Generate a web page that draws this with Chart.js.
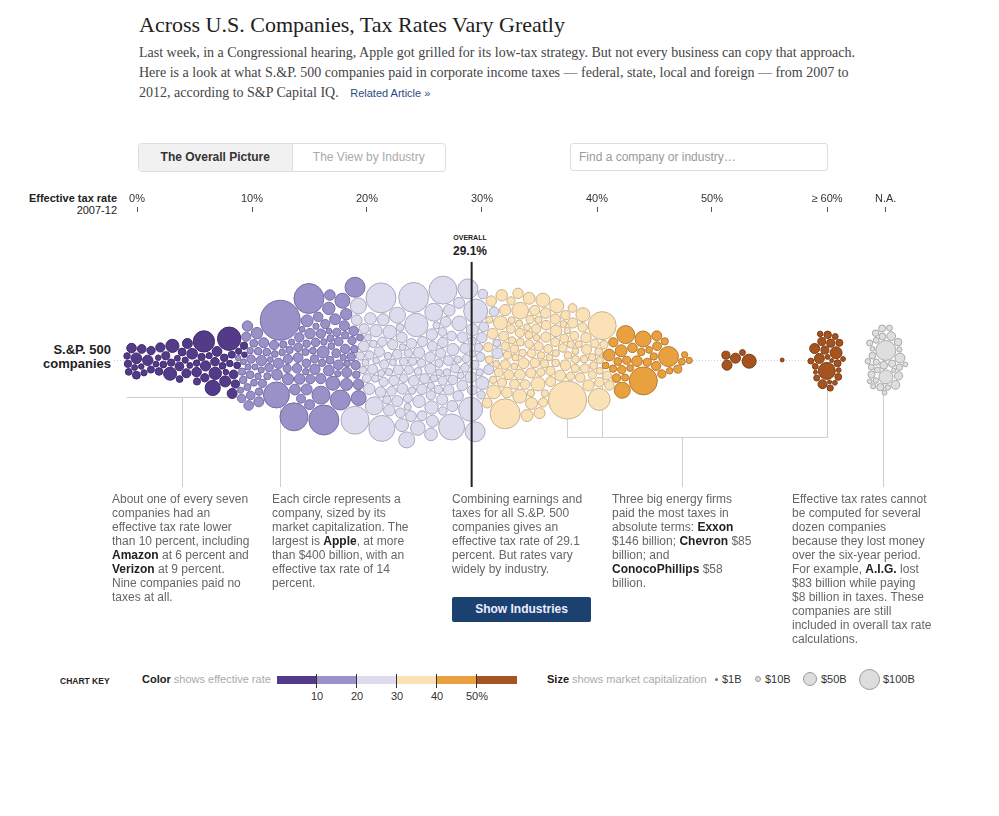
<!DOCTYPE html>
<html>
<head>
<meta charset="utf-8">
<script src="https://cdn.jsdelivr.net/npm/chart.js@4"></script>
<style>
  body { margin: 0; background: #fff; width: 999px; height: 816px; overflow: hidden; position: relative;
         font-family: "Liberation Sans", Arial, sans-serif; color: #333; }
  .abs { position: absolute; }
  h1 { position: absolute; left: 139px; top: 11px; margin: 0; font: normal 22px/28px "Liberation Serif", serif; color: #222; }
  .intro { left: 139px; top: 43px; width: 820px; font: 14px/20px "Liberation Serif", serif; color: #444; }
  .intro a { font: 11px "Liberation Sans", sans-serif; color: #2c4a82; text-decoration: none; margin-left: 8px; }
  .toggle { left: 138px; top: 143px; width: 306px; height: 27px; border: 1px solid #ddd; border-radius: 4px;
            display: flex; overflow: hidden; font-size: 12px; }
  .toggle div { flex: 1; text-align: center; line-height: 27px; }
  .toggle .on { background: #f1f1f1; font-weight: bold; color: #333; border-right: 1px solid #ddd; }
  .toggle .off { color: #aaa; }
  .search { left: 570px; top: 143px; width: 258px; height: 28px; border: 1px solid #ddd; border-radius: 3px;
            box-sizing: border-box; padding-left: 8px; line-height: 26px; font-size: 12px; color: #999; }
  .axhead { left: 0; top: 192px; width: 117px; text-align: right; font-size: 11px; line-height: 12px; color: #222; }
  .rowlabel { left: 0; top: 343px; width: 111px; text-align: right; font: bold 13px/14px "Liberation Sans", sans-serif; color: #222; }
  .overall { left: 430px; width: 80px; text-align: center; font-weight: bold; color: #222; }
  .note { top: 492px; width: 175px; font-size: 12px; line-height: 14px; color: #666; white-space: nowrap; }
  .note b { color: #222; }
  .btn { left: 452px; top: 597px; width: 139px; height: 25px; background: #1b4171; border-radius: 2px;
         color: #eef; font-weight: bold; font-size: 12px; line-height: 25px; text-align: center; }
  .key { top: 673px; font-size: 11px; line-height: 12px; }
  .key .g { color: #aaa; }
  .bar { top: 676px; height: 8px; width: 40px; }
  .tick { top: 674px; width: 1px; height: 14px; background: #333; }
  .tlab { top: 690px; font-size: 11px; width: 30px; text-align: center; color: #333; }
  .dot { border-radius: 50%; background: #ddd; border: 1px solid #999; box-sizing: border-box; }
</style>
</head>
<body>
<h1>Across U.S. Companies, Tax Rates Vary Greatly</h1>
<div class="abs intro">Last week, in a Congressional hearing, Apple got grilled for its low-tax strategy. But not every business can copy that approach.<br>Here is a look at what S.&amp;P. 500 companies paid in corporate income taxes — federal, state, local and foreign — from 2007 to<br>2012, according to S&amp;P Capital IQ. <a href="#">Related Article »</a></div>

<div class="abs toggle"><div class="on">The Overall Picture</div><div class="off">The View by Industry</div></div>
<div class="abs search">Find a company or industry…</div>

<div class="abs axhead"><b>Effective tax rate</b><br>2007-12</div>
<div class="abs rowlabel">S.&amp;P. 500<br>companies</div>
<div class="abs overall" style="top:234px;font-size:7px;">OVERALL</div>
<div class="abs overall" style="top:244px;font-size:12px;">29.1%</div>

<div class="abs" style="left:-21px;top:191px;width:1041px;height:338px;">
  <canvas id="swarm" width="1041" height="338"></canvas>
</div>

<div class="abs note" style="left:112px;">About one of every seven<br>companies had an<br>effective tax rate lower<br>than 10 percent, including<br><b>Amazon</b> at 6 percent and<br><b>Verizon</b> at 9 percent.<br>Nine companies paid no<br>taxes at all.</div>
<div class="abs note" style="left:272px;">Each circle represents a<br>company, sized by its<br>market capitalization. The<br>largest is <b>Apple</b>, at more<br>than $400 billion, with an<br>effective tax rate of 14<br>percent.</div>
<div class="abs note" style="left:452px;">Combining earnings and<br>taxes for all S.&amp;P. 500<br>companies gives an<br>effective tax rate of 29.1<br>percent. But rates vary<br>widely by industry.</div>
<div class="abs note" style="left:612px;">Three big energy firms<br>paid the most taxes in<br>absolute terms: <b>Exxon</b><br>$146 billion; <b>Chevron</b> $85<br>billion; and<br><b>ConocoPhillips</b> $58<br>billion.</div>
<div class="abs note" style="left:792px;">Effective tax rates cannot<br>be computed for several<br>dozen companies<br>because they lost money<br>over the six-year period.<br>For example, <b>A.I.G.</b> lost<br>$83 billion while paying<br>$8 billion in taxes. These<br>companies are still<br>included in overall tax rate<br>calculations.</div>
<div class="abs btn">Show Industries</div>

<div class="abs key" style="left:60px;top:675px;font-size:8.5px;font-weight:bold;color:#222;">CHART KEY</div>
<div class="abs key" style="left:142px;"><b style="color:#222">Color</b> <span class="g">shows effective rate</span></div>
<div id="colorKey"></div>
<div class="abs key" style="left:547px;"><b style="color:#222">Size</b> <span class="g">shows market capitalization</span></div>
<div class="abs dot" style="left:715px;top:678px;width:3px;height:3px;background:#777;border:none;"></div>
<div class="abs key" style="left:722px;">$1B</div>
<div class="abs dot" style="left:755px;top:676px;width:6px;height:6px;"></div>
<div class="abs key" style="left:765px;">$10B</div>
<div class="abs dot" style="left:803px;top:672px;width:14px;height:14px;"></div>
<div class="abs key" style="left:821px;">$50B</div>
<div class="abs dot" style="left:859px;top:669px;width:21px;height:21px;"></div>
<div class="abs key" style="left:883px;">$100B</div>

<script>
// axis
const tickVals = [0, 10, 20, 30, 40, 50, 60, 65.1];
const tickLabels = ['0%', '10%', '20%', '30%', '40%', '50%', '≥ 60%', 'N.A.'];
const naColumn = 65.1;
const overallRate = 29.1;
const keyStops = [10, 20, 30, 40, 50];
const keyLabels = ['10', '20', '30', '40', '50%'];

const rateUnder10 = [0, 0, 0, 0, 0, 0, 0, 0, 0, 0.5, 0.9, 1.2, 1.4, 1.7, 1.9, 2.2, 2.4, 2.6, 2.9,
  3.1, 3.2, 3.4, 3.6, 3.8, 4.0, 4.2, 4.4, 4.6, 4.8, 5.0, 5.2, 5.4, 5.6, 5.8, 6.0, 6.1, 6.3, 6.5, 6.7, 6.9,
  7.0, 7.2, 7.4, 7.6, 7.8, 8.0, 8.2, 8.4, 8.6, 8.7, 8.9, 9.1, 9.3, 9.5, 9.6, 9.8, 9.9];
const capUnder10 = [14, 9, 30, 12, 20, 8, 16, 11, 24, 10, 28, 13, 18, 9, 15, 22, 8, 12, 17,
  44, 45, 14, 9, 20, 12, 26, 10, 16, 21, 9, 30, 13, 24, 11, 18, 118, 10, 27, 14, 40,
  60, 12, 19, 8, 25, 15, 11, 32, 13, 142, 20, 10, 26, 12, 17, 8, 14];

const rate10to20 = [10.0, 10.1, 10.2, 10.3, 10.4, 10.5, 10.7, 10.8, 10.9, 11.0,
  11.1, 11.2, 11.3, 11.4, 11.5, 11.6, 11.7, 11.8, 11.9, 12.0,
  12.1, 12.2, 12.3, 12.35, 12.4, 12.5, 12.6, 12.7, 12.8, 12.9, 13.0,
  13.05, 13.1, 13.2, 13.3, 13.4, 13.5, 13.6, 13.7, 13.8, 13.9, 14.0,
  14.05, 14.1, 14.2, 14.3, 14.4, 14.5, 14.6, 14.7, 14.8, 14.9, 15.0,
  15.05, 15.1, 15.2, 15.3, 15.4, 15.5, 15.6, 15.7, 15.8, 15.9, 16.0,
  16.05, 16.1, 16.15, 16.2, 16.3, 16.4, 16.5, 16.6, 16.7, 16.8, 16.9,
  17.0, 17.05, 17.1, 17.2, 17.3, 17.4, 17.45, 17.5, 17.6, 17.7, 17.8,
  17.9, 18.0, 18.05, 18.1, 18.2, 18.25, 18.3, 18.4, 18.5, 18.55, 18.6, 18.7,
  18.8, 18.9, 19.0, 19.1, 19.2, 19.25, 19.3, 19.4, 19.5, 19.6,
  19.7, 19.8, 19.9];
const cap10to20 = [10, 14, 8, 18, 15, 11, 22, 9, 16, 13,
  28, 10, 19, 16, 12, 24, 20, 9, 15, 26,
  11, 28, 15, 26, 34, 18, 10, 19, 16, 13, 22,
  30, 9, 27, 14, 415, 12, 33, 17, 176, 10, 24,
  22, 23, 20, 204, 14, 29, 11, 30, 25, 17, 9,
  28, 21, 234, 13, 19, 37, 11, 31, 23, 15, 10,
  24, 22, 26, 84, 234, 19, 12, 38, 28, 14, 9,
  22, 30, 16, 40, 18, 11, 27, 25, 13, 29, 51,
  10, 20, 26, 31, 23, 17, 37, 12, 58, 20, 104, 15,
  27, 11, 34, 58, 14, 24, 22, 10, 18, 104,
  12, 29, 15];

const rate20to30 = [20.0, 20.05, 20.1, 20.2, 20.25, 20.3, 20.4, 20.45, 20.5, 20.6, 20.7, 20.8, 20.85, 20.9,
  21.0, 21.05, 21.1, 21.2, 21.25, 21.3, 21.4, 21.5, 21.6, 21.65, 21.7, 21.8, 21.9,
  22.0, 22.05, 22.1, 22.2, 22.25, 22.3, 22.4, 22.45, 22.5, 22.6, 22.7, 22.8, 22.85, 22.9,
  23.0, 23.05, 23.1, 23.2, 23.25, 23.3, 23.4, 23.5, 23.6, 23.65, 23.7, 23.8, 23.9,
  24.0, 24.05, 24.1, 24.2, 24.25, 24.3, 24.4, 24.45, 24.5, 24.6, 24.7, 24.8, 24.85, 24.9,
  25.0, 25.05, 25.1, 25.2, 25.25, 25.3, 25.4, 25.5, 25.6, 25.65, 25.7, 25.8, 25.9,
  26.0, 26.05, 26.1, 26.2, 26.25, 26.3, 26.4, 26.45, 26.5, 26.6, 26.7, 26.8, 26.85, 26.9,
  27.0, 27.05, 27.1, 27.2, 27.25, 27.3, 27.4, 27.5, 27.6, 27.65, 27.7, 27.8, 27.9,
  28.0, 28.05, 28.1, 28.15, 28.2, 28.25, 28.3, 28.4, 28.45, 28.5, 28.6, 28.7, 28.8, 28.85, 28.9,
  29.0, 29.1, 29.2, 29.25, 29.3, 29.4, 29.5, 29.6, 29.65, 29.7, 29.8, 29.9];
const cap20to30 = [14, 30, 204, 20, 30, 67, 13, 26, 27, 17, 34, 12, 22, 84,
  19, 26, 29, 14, 36, 234, 23, 40, 15, 24, 176, 18, 32,
  13, 28, 25, 48, 34, 17, 22, 31, 14, 37, 19, 12, 26, 28,
  44, 28, 67, 16, 30, 24, 13, 67, 30, 21, 234, 18, 40,
  14, 27, 21, 33, 30, 13, 142, 25, 26, 17, 55, 84, 29, 19,
  29, 26, 12, 23, 34, 42, 16, 31, 14, 26, 47, 20, 25,
  13, 30, 35, 37, 32, 176, 18, 28, 204, 22, 14, 38, 24, 17,
  28, 28, 19, 58, 32, 13, 24, 32, 15, 27, 20, 104, 12,
  30, 22, 150, 104, 18, 24, 39, 14, 29, 25, 17, 150, 34, 21, 13,
  22, 19, 28, 24, 14, 44, 18, 12, 26, 24, 16, 31];

const rate30to40 = [30.0, 30.1, 30.15, 30.2, 30.3, 30.4, 30.5, 30.55, 30.6, 30.7, 30.8, 30.9,
  31.0, 31.1, 31.15, 31.2, 31.3, 31.4, 31.5, 31.55, 31.6, 31.7, 31.8, 31.9,
  32.0, 32.1, 32.15, 32.2, 32.3, 32.4, 32.5, 32.55, 32.6, 32.7, 32.8, 32.9,
  33.0, 33.1, 33.15, 33.2, 33.3, 33.4, 33.5, 33.55, 33.6, 33.7, 33.8, 33.9,
  34.0, 34.1, 34.15, 34.2, 34.3, 34.4, 34.5, 34.55, 34.6, 34.7, 34.8, 34.9,
  35.0, 35.1, 35.15, 35.2, 35.3, 35.4, 35.5, 35.55, 35.6, 35.7, 35.8, 35.9,
  36.0, 36.1, 36.15, 36.2, 36.3, 36.4, 36.5, 36.55, 36.6, 36.7, 36.9,
  37.0, 37.1, 37.15, 37.2, 37.3, 37.4, 37.5, 37.55, 37.6, 37.7, 37.8, 37.9,
  38.0, 38.1, 38.2, 38.3, 38.4, 38.5, 38.6, 38.7, 38.8, 38.9,
  39.0, 39.1, 39.2, 39.3, 39.4, 39.5, 39.6, 39.7, 39.8, 39.9];
const cap30to40 = [16, 30, 22, 13, 21, 51, 15, 28, 25, 26, 12, 19,
  34, 51, 24, 14, 22, 17, 30, 20, 13, 234, 19, 25,
  12, 33, 26, 51, 16, 22, 14, 30, 72, 18, 28, 13,
  24, 15, 31, 37, 37, 19, 12, 26, 27, 17, 37, 22,
  14, 32, 20, 16, 11, 25, 51, 23, 18, 13, 29, 20,
  51, 15, 27, 22, 12, 35, 17, 24, 26, 14, 21, 13,
  27, 51, 19, 16, 20, 11, 31, 22, 15, 23, 375,
  14, 29, 21, 18, 12, 24, 16, 27, 33, 13, 20, 15,
  26, 17, 23, 51, 12, 22, 16, 14, 28, 19,
  18, 24, 13, 17, 23, 12, 126, 16, 20, 204];

const rate40to50 = [40.2, 40.5, 40.6, 40.8, 41.0, 41.2, 41.4, 41.6, 41.7, 41.8, 42.0, 42.2, 42.4, 42.6, 42.9,
  43.1, 43.4, 43.5, 43.7, 43.9, 44.0, 44.2, 44.4, 44.6, 45.0, 45.3, 45.7, 46.2, 46.5, 46.8, 47.5, 48.0];
const cap40to50 = [12, 14, 37, 20, 16, 22, 13, 37, 67, 84, 18, 12, 24, 17, 30,
  15, 204, 12, 67, 20, 17, 14, 22, 26, 14, 18, 104, 11, 12, 17, 10, 10];

const rate50to60 = [51.3, 51.4, 51.9, 52.8, 53.2, 56.1];
const cap50to60 = [17, 26, 26, 9, 51, 4];

// rates of 60% or more are drawn in the 60% column
const rateOver60 = [60, 60, 60, 60, 60, 60, 60, 60, 60, 60, 60, 60, 60, 60, 60, 60, 60, 60, 60, 60,
  60, 60, 60, 60, 60];
const capOver60 = [26, 6, 4, 9, 6, 37, 9, 13, 26, 4, 75, 17, 17, 6, 13, 9, 17, 4, 21, 9,
  12, 8, 15, 10, 6];

// no rate available (lost money over the period)
const capNA = [6, 9, 12, 5, 14, 8, 10, 16, 6, 11, 26, 9, 104, 51, 13,
  7, 18, 10, 8, 15, 6, 12, 20, 9, 14, 20, 7, 11, 8, 13, 6, 9];

const groups = [
  { label: 'Under 10%', rates: rateUnder10, caps: capUnder10, fill: '#533b8a', line: '#3e2a6c' },
  { label: '10-20%', rates: rate10to20, caps: cap10to20, fill: '#9b91c9', line: '#766ca6' },
  { label: '20-30%', rates: rate20to30, caps: cap20to30, fill: '#dcdcee', line: '#a9a9bc' },
  { label: '30-40%', rates: rate30to40, caps: cap30to40, fill: '#fae1b6', line: '#c8b18e' },
  { label: '40-50%', rates: rate40to50, caps: cap40to50, fill: '#e9a03f', line: '#b8782c' },
  { label: '50-60%', rates: rate50to60, caps: cap50to60, fill: '#a5541f', line: '#7c3c13' },
  { label: '60% or more', rates: rateOver60, caps: capOver60, fill: '#a5541f', line: '#7c3c13' },
  { label: 'N.A.', rates: capNA.map(() => naColumn), caps: capNA, fill: '#dedede', line: '#a8a8a8' }
];
const keyColors = groups.slice(0, 6).map(g => g.fill);

function radiusFor(cap) {
  return 0.98 * Math.sqrt(cap);
}

// colour key bar
const keyBox = document.getElementById('colorKey');
keyColors.forEach((c, i) => {
  const d = document.createElement('div');
  d.className = 'abs bar';
  d.style.left = (277 + i * 40) + 'px';
  d.style.background = c;
  keyBox.appendChild(d);
});
keyStops.forEach((s, i) => {
  const t = document.createElement('div');
  t.className = 'abs tick';
  t.style.left = (277 + (i + 1) * 40 - 1) + 'px';
  keyBox.appendChild(t);
  const l = document.createElement('div');
  l.className = 'abs tlab';
  l.style.left = (277 + (i + 1) * 40 - 15) + 'px';
  l.textContent = keyLabels[i];
  keyBox.appendChild(l);
});

function findPoint(c, di, cap) {
  const idx = c.data.datasets[di].data.findIndex(p => p.cap === cap);
  return c.getDatasetMeta(di).data[idx];
}

const guides = {
  id: 'guides',
  beforeDatasetsDraw(c) {
    const xs = c.scales.x, ys = c.scales.y;
    const cy = ys.getPixelForValue(0);
    const ctx = c.ctx;
    ctx.save();
    // dotted baseline
    ctx.strokeStyle = '#d0d0d0';
    ctx.lineWidth = 1;
    ctx.setLineDash([1, 2]);
    ctx.beginPath();
    ctx.moveTo(xs.getPixelForValue(-2), cy + 0.5);
    ctx.lineTo(xs.getPixelForValue(60), cy + 0.5);
    ctx.stroke();
    ctx.setLineDash([]);

    ctx.strokeStyle = '#cfcfcf';
    ctx.beginPath();
    // low-rate bracket
    const bx = Math.round(xs.getPixelForValue(3.9)) + 0.5;
    ctx.moveTo(xs.getPixelForValue(-0.9), cy + 37.5);
    ctx.lineTo(xs.getPixelForValue(8.7), cy + 37.5);
    ctx.moveTo(bx, cy + 37.5);
    ctx.lineTo(bx, cy + 127);
    // Apple
    const apple = findPoint(c, 1, 415);
    ctx.moveTo(Math.round(apple.x) + 0.5, apple.y);
    ctx.lineTo(Math.round(apple.x) + 0.5, cy + 127);
    // energy firms
    const exxon = findPoint(c, 3, 375), chevron = findPoint(c, 3, 204), conoco = findPoint(c, 6, 75);
    const ey = cy + 77.5;
    [exxon, chevron, conoco].forEach(p => {
      ctx.moveTo(Math.round(p.x) + 0.5, p.y);
      ctx.lineTo(Math.round(p.x) + 0.5, ey);
    });
    ctx.moveTo(Math.round(exxon.x), ey);
    ctx.lineTo(Math.round(conoco.x) + 1, ey);
    const mx = Math.round(xs.getPixelForValue(47.4)) + 0.5;
    ctx.moveTo(mx, ey);
    ctx.lineTo(mx, cy + 127);
    // N.A.
    const nx = Math.round(xs.getPixelForValue(naColumn - 0.2)) + 0.5;
    ctx.moveTo(nx, cy);
    ctx.lineTo(nx, cy + 127);
    ctx.stroke();
    ctx.restore();
  },
  afterDatasetsDraw(c) {
    const xs = c.scales.x, ys = c.scales.y;
    const cy = ys.getPixelForValue(0);
    const ox = xs.getPixelForValue(overallRate);
    const ctx = c.ctx;
    ctx.save();
    ctx.strokeStyle = '#222';
    ctx.lineWidth = 2;
    ctx.beginPath();
    ctx.moveTo(ox, cy - 98);
    ctx.lineTo(ox, cy + 127);
    ctx.stroke();
    ctx.restore();
  }
};

const chart = new Chart(document.getElementById('swarm'), {
  type: 'bubble',
  data: {
    datasets: groups.map(g => ({
      label: g.label,
      data: g.rates.map((r, i) => ({ x: r, y: 0, r: radiusFor(g.caps[i]), cap: g.caps[i], rate: r })),
      backgroundColor: g.fill,
      borderColor: g.line,
      borderWidth: 1
    }))
  },
  options: {
    responsive: false,
    animation: false,
    events: [],
    layout: { padding: { left: 21, right: 21, top: 0, bottom: 21 } },
    plugins: { legend: { display: false }, tooltip: { enabled: false } },
    scales: {
      x: {
        type: 'linear',
        position: 'top',
        min: -137 / 11.5,
        max: (999 - 137) / 11.5,
        afterBuildTicks: s => { s.ticks = tickVals.map(v => ({ value: v })); },
        ticks: {
          autoSkip: false,
          maxRotation: 0,
          padding: 1,
          color: '#333',
          font: { size: 11, family: 'Liberation Sans' },
          callback: v => tickLabels[tickVals.indexOf(v)]
        },
        grid: { drawOnChartArea: false, tickLength: 5, tickColor: '#555', tickWidth: 1 },
        border: { display: false }
      },
      y: { display: false, min: -150, max: 150 }
    }
  },
  plugins: [guides]
});

// push overlapping circles apart, bigger circles move less
function collide(nodes, gap, maxR) {
  nodes.sort((a, b) => a.x - b.x);
  for (let i = 0; i < nodes.length; i++) {
    const a = nodes[i];
    for (let j = i + 1; j < nodes.length; j++) {
      const b = nodes[j];
      const dx = b.x - a.x;
      if (dx > a.r + maxR + gap) break;
      const dy = b.y - a.y;
      const min = a.r + b.r + gap;
      const d2 = dx * dx + dy * dy;
      if (d2 < min * min) {
        const d = Math.sqrt(d2) || 0.01;
        const push = (min - d) / d;
        const wa = (b.r * b.r) / (a.r * a.r + b.r * b.r), wb = 1 - wa;
        a.x -= dx * push * wa; a.y -= dy * push * wa;
        b.x += dx * push * wb; b.y += dy * push * wb;
      }
    }
  }
}

// pack the circles around the centre line: beeswarm start, then relax towards each rate
function layoutSwarm() {
  const xs = chart.scales.x, ys = chart.scales.y;
  const cy = ys.getPixelForValue(0);
  const gap = 1;
  const nodes = [];
  chart.data.datasets.forEach(ds => ds.data.forEach(p => nodes.push({ p: p, tx: xs.getPixelForValue(p.rate), r: p.r, y: 0 })));
  nodes.sort((a, b) => a.tx - b.tx);
  nodes.forEach((n, k) => { n.x = n.tx + ((k % 3) - 1) * 0.8; });
  const placed = [];
  nodes.forEach(n => {
    const near = placed.filter(q => Math.abs(q.x - n.x) < n.r + q.r + gap);
    const cands = [0];
    near.forEach(q => {
      const d = n.r + q.r + gap, dx = n.x - q.x;
      const h = Math.sqrt(d * d - dx * dx);
      cands.push(q.y + h, q.y - h);
    });
    cands.sort((a, b) => Math.abs(a) - Math.abs(b));
    for (const c of cands) {
      const ok = near.every(q => {
        const d = n.r + q.r + gap - 1e-6, dx = n.x - q.x, dy = c - q.y;
        return dx * dx + dy * dy >= d * d;
      });
      if (ok) { n.y = c; break; }
    }
    placed.push(n);
  });
  const maxR = Math.max(...nodes.map(n => n.r));
  const steps = 300;
  for (let it = 0; it < steps; it++) {
    const a = 1 - it / steps;
    nodes.forEach(n => { n.x += (n.tx - n.x) * 0.1 * a; n.y -= n.y * 0.04 * a; });
    for (let pass = 0; pass < 3; pass++) collide(nodes, gap, maxR);
  }
  for (let pass = 0; pass < 30; pass++) collide(nodes, gap, maxR);
  nodes.forEach(n => {
    n.p.x = xs.getValueForPixel(n.x);
    n.p.y = ys.getValueForPixel(cy + n.y);
  });
  chart.update('none');
}
layoutSwarm();
</script>
</body>
</html>
